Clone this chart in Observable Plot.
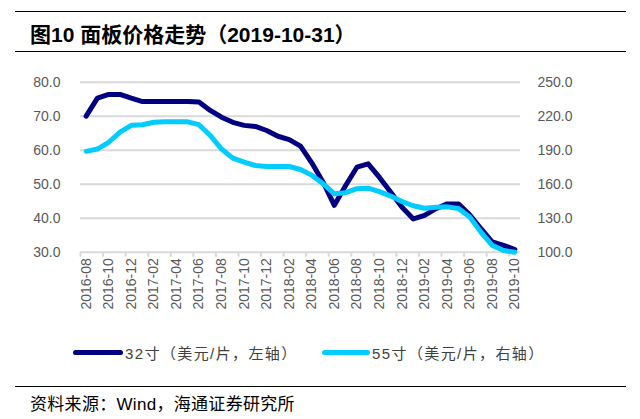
<!DOCTYPE html>
<html><head><meta charset="utf-8">
<script src="https://cdn.jsdelivr.net/npm/d3@7"></script>
<script src="https://cdn.jsdelivr.net/npm/@observablehq/plot@0.6"></script>
<style>
body{margin:0;background:#fff;font-family:"Liberation Sans",Arial,"Noto Sans CJK SC",sans-serif;}
#wrap{position:relative;width:640px;height:419px;overflow:hidden;background:#fff;}
.rule{position:absolute;left:15px;width:611px;height:0;border-top:1.5px solid #000;}
#title{position:absolute;left:30px;top:18px;font-size:21px;font-weight:bold;color:#000;white-space:nowrap;font-family:"Liberation Sans",Arial,"Noto Sans CJK SC",sans-serif;}
#chart{position:absolute;left:0;top:60px;}
#legend{position:absolute;top:342px;left:0;width:640px;font-size:15px;color:#404040;white-space:nowrap;}
.item{position:absolute;top:0;display:flex;align-items:center;height:20px;}
.sw{display:inline-block;height:5px;border-radius:3px;}
.lt{letter-spacing:1.4px;}
#source{position:absolute;left:30px;top:390px;font-size:17px;letter-spacing:0.3px;color:#000;white-space:nowrap;}
</style></head>
<body>
<div id="wrap">
  <div class="rule" style="top:11px"></div>
  <div id="title"></div>
  <div class="rule" style="top:51px"></div>
  <div id="chart"></div>
  <div id="legend"></div>
  <div class="rule" style="top:386px"></div>
  <div id="source"></div>
</div>
<script>
const titleText = "图10 面板价格走势（2019-10-31）";
const sourceText = "资料来源：Wind，海通证券研究所";
const seriesNames = ["32寸（美元/片，左轴）", "55寸（美元/片，右轴）"];
const seriesColors = ["#000080", "#00ccff"];

const months = ["2016-08","2016-09","2016-10","2016-11","2016-12",
  "2017-01","2017-02","2017-03","2017-04","2017-05","2017-06","2017-07","2017-08","2017-09","2017-10","2017-11","2017-12",
  "2018-01","2018-02","2018-03","2018-04","2018-05","2018-06","2018-07","2018-08","2018-09","2018-10","2018-11","2018-12",
  "2019-01","2019-02","2019-03","2019-04","2019-05","2019-06","2019-07","2019-08","2019-09","2019-10"];

// 32寸 (left axis)
const price32 = [70, 75.3, 76.4, 76.4, 75.3,
  74.3, 74.3, 74.3, 74.3, 74.3, 74.2, 71.7, 69.7, 68.2, 67.3, 67, 65.8,
  64.1, 63.1, 61.2, 56.3, 50.6, 43.8, 49.6, 55, 56, 52, 47.6, 43.2,
  39.8, 40.8, 42.8, 44.2, 44.2, 41, 36.9, 33, 32, 30.8];

// 55寸 (right axis)
const price55 = [189, 191, 197, 206, 212,
  212.5, 214.7, 215, 215, 215, 212.5, 203, 191, 183, 179.5, 176.5, 175.6,
  175.6, 175.6, 173, 168, 160.5, 151.5, 152.5, 156, 156.5, 153.5, 149.5, 144.7,
  141, 138.8, 139.6, 140, 138.6, 131, 117.6, 106, 101.5, 100];

const leftTicks = [30, 40, 50, 60, 70, 80];
const rightTicks = [100, 130, 160, 190, 220, 250];

document.getElementById("title").textContent = titleText;
document.getElementById("source").textContent = sourceText;

const toLeft = v => 30 + (v - 100) / 3;
const idx = months.map((_, i) => i);
const labelIdx = idx.filter(i => i % 2 === 0);
const boundaries = d3.range(-0.5, months.length, 2);

const chart = Plot.plot({
  width: 640, height: 260,
  marginLeft: 80, marginRight: 120, marginTop: 21.7, marginBottom: 68.3,
  x: {type: "linear", domain: [-0.5, months.length - 0.5]},
  y: {domain: [30, 80]},
  style: {fontFamily: "'Liberation Sans', Arial, sans-serif", fontSize: "14px", color: "#595959", background: "#fff"},
  marks: [
    Plot.ruleY(leftTicks, {stroke: "#d9d9d9", strokeWidth: 2}),
    Plot.axisY({anchor: "left", ticks: leftTicks, tickSize: 0, tickPadding: 20, tickFormat: d => d.toFixed(1), label: null}),
    Plot.axisY({anchor: "right", ticks: rightTicks.map(toLeft), tickSize: 0, tickPadding: 17,
      tickFormat: d => (100 + (d - 30) * 3).toFixed(1), label: null}),
    Plot.axisX({ticks: boundaries, tickSize: 5, stroke: "#d9d9d9", strokeWidth: 2, tickFormat: () => "", label: null}),
    Plot.axisX({ticks: labelIdx, tickSize: 0, tickPadding: 6, tickRotate: -90, tickFormat: i => months[i], label: null}),
    Plot.line(idx, {x: i => i, y: i => price32[i], stroke: seriesColors[0], strokeWidth: 5, strokeLinejoin: "round", strokeLinecap: "round"}),
    Plot.line(idx, {x: i => i, y: i => toLeft(price55[i]), stroke: seriesColors[1], strokeWidth: 5, strokeLinejoin: "round", strokeLinecap: "round"})
  ]
});
document.getElementById("chart").appendChild(chart);

const legend = document.getElementById("legend");
const lefts = [73, 322];
const swatchWidths = [50, 48];
seriesNames.forEach((name, k) => {
  const it = document.createElement("div");
  it.className = "item";
  it.style.left = lefts[k] + "px";
  const sw = document.createElement("span");
  sw.className = "sw";
  sw.style.width = swatchWidths[k] + "px";
  sw.style.background = seriesColors[k];
  const tx = document.createElement("span");
  tx.className = "lt";
  tx.textContent = name;
  tx.style.marginLeft = "2px";
  it.appendChild(sw); it.appendChild(tx);
  legend.appendChild(it);
});
</script>
</body></html>
